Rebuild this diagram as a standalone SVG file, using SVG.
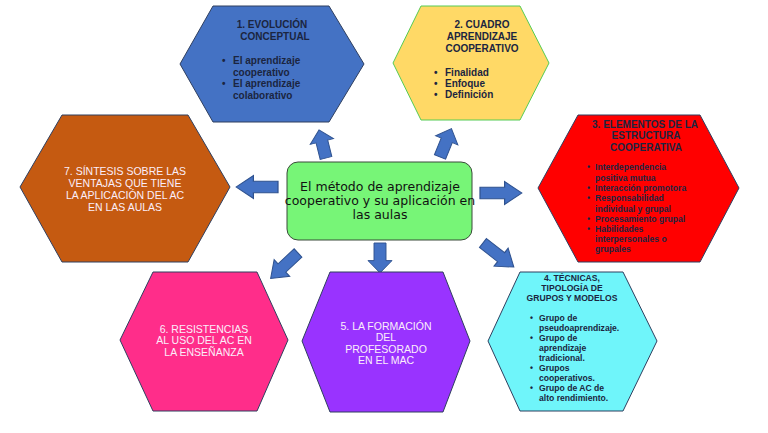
<svg xmlns="http://www.w3.org/2000/svg" width="768" height="433" viewBox="0 0 768 433">
<defs>
<style>
.hx{stroke:#2f3f5f;stroke-width:1}
.t{font-family:"Liberation Sans",Arial,sans-serif;font-size:10px;fill:#1b2540}
.b{font-weight:bold}
.w{fill:#fbeefa;font-size:10.5px}
.s{font-size:8.6px}
.arr{fill:#4472C4;stroke:#2f528f;stroke-width:1}
</style>
<path id="ar" d="M0,-6 H20 V-12 L34,0 L20,12 V6 H0 Z"/>
</defs>
<rect width="768" height="433" fill="#fff"/>
<g id="connectors">
<use href="#ar" class="arr" transform="translate(326,158) rotate(-104) scale(0.85,1)"/>
<use href="#ar" class="arr" transform="translate(440,157) rotate(-68) scale(0.9,1)"/>
<use href="#ar" class="arr" transform="translate(480,193) scale(1.23,0.95)"/>
<use href="#ar" class="arr" transform="translate(278,187) rotate(180) scale(1.23,0.95)"/>
<use href="#ar" class="arr" transform="translate(298,253) rotate(137) scale(1.1,0.95)"/>
<use href="#ar" class="arr" transform="translate(380,243) rotate(90) scale(0.88,1)"/>
<use href="#ar" class="arr" transform="translate(483,243) rotate(38) scale(1.15,0.95)"/>
</g>
<g id="center">
<rect x="287" y="162" width="185" height="78" rx="11" fill="#77F577" stroke="#3b4a3b"/>
<g font-family="'DejaVu Sans',Verdana,sans-serif" font-size="12.5" fill="#111" text-anchor="middle">
<text x="380" y="191">El método de aprendizaje</text>
<text x="380" y="205">cooperativo y su aplicación en</text>
<text x="380" y="219">las aulas</text>
</g>
</g>
<g id="n1">
<polygon class="hx" fill="#4472C4" points="213,6 329,6 364,64 329,122 213,122 180,64"/>
<g class="t b" text-anchor="middle"><text x="272" y="28">1.  EVOLUCIÓN</text><text x="275" y="40">CONCEPTUAL</text></g>
<g class="t b"><text x="222" y="64">•</text><text x="233" y="64">El aprendizaje</text><text x="233" y="76">cooperativo</text><text x="222" y="87">•</text><text x="233" y="87">El aprendizaje</text><text x="233" y="99">colaborativo</text></g>
</g>
<g id="n2">
<polygon class="hx" fill="#FFD966" stroke="#55cc55" style="stroke:#55cc55" points="421,6 520,6 549,63 520,120 421,120 393,63"/>
<g class="t b" text-anchor="middle"><text x="482" y="28">2. CUADRO</text><text x="482" y="40">APRENDIZAJE</text><text x="482" y="52">COOPERATIVO</text></g>
<g class="t b"><text x="434" y="76">•</text><text x="445" y="76">Finalidad</text><text x="434" y="87">•</text><text x="445" y="87">Enfoque</text><text x="434" y="98">•</text><text x="445" y="98">Definición</text></g>
</g>
<g id="n3">
<polygon class="hx" fill="#FF0000" points="578,115 700,115 739,188 700,262 578,262 538,188"/>
<g class="t b" text-anchor="middle" fill="#111"><text x="645" y="128">3.  ELEMENTOS DE LA</text><text x="646" y="139">ESTRUCTURA</text><text x="646" y="151">COOPERATIVA</text></g>
<g class="t b s"><text x="587" y="170">•</text><text x="595" y="170">Interdependencia</text><text x="595" y="181">positiva mutua</text><text x="587" y="191">•</text><text x="595" y="191">Interacción promotora</text><text x="587" y="201">•</text><text x="595" y="201">Responsabilidad</text><text x="595" y="212">individual y grupal</text><text x="587" y="222">•</text><text x="595" y="222">Procesamiento grupal</text><text x="587" y="232">•</text><text x="595" y="232">Habilidades</text><text x="595" y="242">interpersonales o</text><text x="595" y="252">grupales</text></g>
</g>
<g id="n4">
<polygon class="hx" fill="#6FF5FA" points="520,272 623,272 657,341 623,411 520,411 488,341"/>
<g class="t b s" text-anchor="middle"><text x="572" y="281">4. TÉCNICAS,</text><text x="572" y="291">TIPOLOGÍA DE</text><text x="572" y="301">GRUPOS Y MODELOS</text></g>
<g class="t b s"><text x="530" y="321">•</text><text x="539" y="321">Grupo de</text><text x="539" y="331">pseudoaprendizaje.</text><text x="530" y="341">•</text><text x="539" y="341">Grupo de</text><text x="539" y="351">aprendizaje</text><text x="539" y="361">tradicional.</text><text x="530" y="371">•</text><text x="539" y="371">Grupos</text><text x="539" y="381">cooperativos.</text><text x="530" y="391">•</text><text x="539" y="391">Grupo de AC de</text><text x="539" y="401">alto rendimiento.</text></g>
</g>
<g id="n5">
<polygon class="hx" fill="#9933FF" points="330,272 443,272 470,341 443,412 330,412 302,341"/>
<g class="t w" text-anchor="middle"><text x="386" y="330">5. LA FORMACIÓN</text><text x="386" y="341">DEL</text><text x="386" y="353">PROFESORADO</text><text x="386" y="364">EN EL MAC</text></g>
</g>
<g id="n6">
<polygon class="hx" fill="#FF2D8A" points="153,272 257,272 288,340 257,411 153,411 120,340"/>
<g class="t w" text-anchor="middle"><text x="204" y="333">6. RESISTENCIAS</text><text x="204" y="344">AL USO DEL AC EN</text><text x="204" y="356">LA ENSEÑANZA</text></g>
</g>
<g id="n7">
<polygon class="hx" fill="#C55A11" points="62,115 188,115 230,187 188,262 62,262 20,187"/>
<g class="t w" text-anchor="middle"><text x="125" y="175">7. SÍNTESIS SOBRE LAS</text><text x="125" y="187">VENTAJAS QUE TIENE</text><text x="125" y="199">LA APLICACIÓN DEL AC</text><text x="125" y="211">EN LAS AULAS</text></g>
</g>
</svg>
